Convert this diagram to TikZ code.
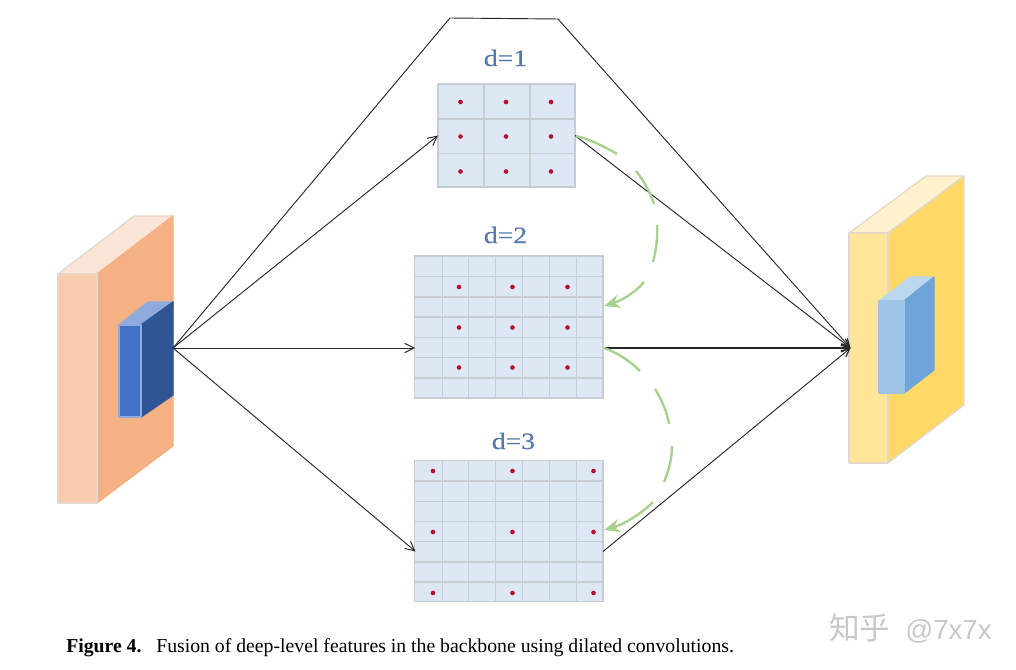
\documentclass[tikz,border=0pt]{standalone}
\usepackage{fontspec}
\setmainfont{Liberation Serif}
\newfontfamily\cjkwm{Noto Sans CJK SC}
\newfontfamily\wmlatin{Liberation Sans}
\newfontfamily\labelfont[FakeStretch=1.18,FakeBold=0.4]{Liberation Serif}
\usetikzlibrary{arrows.meta}
\definecolor{orF}{HTML}{F8CBAD}\definecolor{orR}{HTML}{F4B183}\definecolor{orT}{HTML}{FBE5D6}
\definecolor{yeF}{HTML}{FFE699}\definecolor{yeR}{HTML}{FFD966}\definecolor{yeT}{HTML}{FFF2CC}
\definecolor{blF}{HTML}{4472C4}\definecolor{blR}{HTML}{2F5597}\definecolor{blT}{HTML}{8FAADC}
\definecolor{lbF}{HTML}{9DC3E6}\definecolor{lbR}{HTML}{6FA5D8}\definecolor{lbT}{HTML}{BDD7EE}
\definecolor{gridfill}{HTML}{DEE8F4}\definecolor{gridline}{HTML}{C8CCD3}
\definecolor{dotred}{HTML}{B81030}\definecolor{labelblue}{HTML}{5578AE}
\definecolor{greenarc}{HTML}{A9D18E}\definecolor{edgeT}{HTML}{E4D8CC}\definecolor{wm}{HTML}{C8C8C8}
\tikzset{
  face/.style={draw=edgeT,line width=1pt,line join=round},
  facei/.style={draw=#1,line width=1pt,line join=round},
  gridbox/.style={draw=gridline,fill=gridfill,line width=1.1pt,inner sep=0pt,outer sep=0pt},
  gridrule/.style={draw=gridline,line width=1.1pt},
  reddot/.style={circle,fill=dotred,inner sep=0pt,minimum size=3.5pt},
  dlabel/.style={text=labelblue,font=\labelfont\fontsize{17.6pt}{20pt}\selectfont,inner sep=0pt},
  link/.style={draw=black!85,line width=0.7pt},
  linkarrow/.style={link,-{Straight Barb[length=7pt,width=7pt]}},
  fuse/.style={link,-{Straight Barb[length=6pt,width=6pt,line width=0.9pt]}},
  greenflow/.style={draw=greenarc,line width=1.8pt,-{Stealth[length=12pt,width=10pt]}},
}
\begin{document}
\begin{tikzpicture}[x=0.75pt,y=-0.75pt]
\useasboundingbox (0,0) rectangle (1016,670);
% left block
\filldraw[face,fill=orT] (58,274) -- (134,216) -- (173,216) -- (97,274) -- cycle;
\filldraw[face,fill=orR,draw=orR] (97,274) -- (173,216) -- (173,446) -- (97,503) -- cycle;
\filldraw[face,fill=orF] (58,274) rectangle (97,503);
\filldraw[facei=blT,fill=blT] (119,325) -- (148,302) -- (173,302) -- (141,325) -- cycle;
\filldraw[facei=blR,fill=blR] (141,325) -- (173,302) -- (173,395) -- (141,417) -- cycle;
\filldraw[facei=blT,fill=blF] (119,325) rectangle (141,417);
% right block
\filldraw[face,fill=yeT] (849,233) -- (926,176) -- (964,176) -- (888,233) -- cycle;
\filldraw[face,fill=yeR] (888,233) -- (964,176) -- (964,405) -- (888,463) -- cycle;
\filldraw[face,fill=yeF] (849,233) rectangle (888,463);
\filldraw[facei=lbT,fill=lbT] (879,301) -- (910,277) -- (934,277) -- (904,301) -- cycle;
\filldraw[facei=lbR,fill=lbR] (904,301) -- (934,277) -- (934,370) -- (904,393) -- cycle;
\filldraw[facei=lbF,fill=lbF] (879,301) rectangle (904,393);
% grids
\node[gridbox,minimum width=102.75pt,minimum height=77.25pt] (g1) at (506.5,135.5) {};
\node[gridbox,minimum width=141.4pt,minimum height=106.5pt] (g2) at (508.75,327) {};
\node[gridbox,minimum width=141.4pt,minimum height=105.75pt] (g3) at (508.75,531.25) {};
\foreach \x in {484,530} \draw[gridrule] (\x,84) -- (\x,187);
\foreach \y in {119,153.5} \draw[gridrule] (438,\y) -- (575,\y);
\foreach \x in {442.3,468.3,495.7,522.7,549.3,576.7} {
  \draw[gridrule] (\x,256) -- (\x,398);
  \draw[gridrule] (\x,460.7) -- (\x,602);
}
\foreach \y in {276.7,297,317,337.5,357.5,378} \draw[gridrule] (414.5,\y) -- (603,\y);
\foreach \y in {481,501.5,521.5,541.5,562,582} \draw[gridrule] (414.5,\y) -- (603,\y);
\foreach \x in {460.5,506,551} \foreach \y in {102,136.5,171.5} \node[reddot] at (\x,\y) {};
\foreach \x in {459,512.5,567.5} \foreach \y in {287,327.5,367.5} \node[reddot] at (\x,\y) {};
\foreach \x in {433,512.5,593.5} \foreach \y in {471,532,593} \node[reddot] at (\x,\y) {};
% labels
\node[dlabel] (d1) at (505.5,58) {d=1};
\node[dlabel] (d2) at (505.5,235) {d=2};
\node[dlabel] (d3) at (513.5,441) {d=3};
% connector ends
\coordinate (src) at (173,348);
\coordinate (dst) at (850.5,348);
\coordinate (apexL) at (450,18);
\coordinate (apexR) at (558,19);
\coordinate (g2in) at (415,348);
\coordinate (g2out) at (603.5,348);
\coordinate (g3in) at (415.5,551.5);
\coordinate (g3out) at (603,551.5);
% connectors
\draw[linkarrow] (src) -- (g1.west);
\draw[linkarrow] (src) -- (g2in);
\draw[linkarrow] (src) -- (g3in);
\draw[fuse] (src) -- (apexL) -- (apexR) -- (dst);
\draw[fuse] (g1.east) -- (dst);
\draw[fuse,line width=1pt] (g2out) -- (dst);
\draw[fuse] (g3out) -- (dst);
% green dashed arcs
\coordinate (a1s) at (576,136);
\coordinate (a1e) at (604,306);
\coordinate (a2s) at (604,348);
\coordinate (a2e) at (604,530);
\draw[greenflow] (a1s) .. controls (592,140) and (605,147) .. (617,154)
  (636,171) .. controls (644,181) and (650,192) .. (654,204)
  (657,225) .. controls (658,238) and (656,250) .. (653,262)
  (644,282) .. controls (634,294) and (620,301) .. (a1e);
\draw[greenflow] (a2s) .. controls (618,353) and (630,361) .. (640,371)
  (655,389) .. controls (662,400) and (667,412) .. (669,424)
  (672,446) .. controls (672,458) and (669,470) .. (664,482)
  (653,502) .. controls (640,515) and (622,525) .. (a2e);
% caption
\node[anchor=base west,inner sep=0pt,font=\fontsize{14.8pt}{17pt}\selectfont] (cap) at (66,652)
  {\textbf{Figure 4.}\hspace{0.75em}Fusion of deep-level features in the backbone using dilated convolutions.};
% watermark
\node[anchor=base west,inner sep=0pt,text=wm] (wmk) at (829,639)
  {{\cjkwm\fontsize{23pt}{25pt}\selectfont 知乎}\hspace{11pt}{\wmlatin\fontsize{20.7pt}{25pt}\selectfont @7x7x}};
\end{tikzpicture}
\end{document}
